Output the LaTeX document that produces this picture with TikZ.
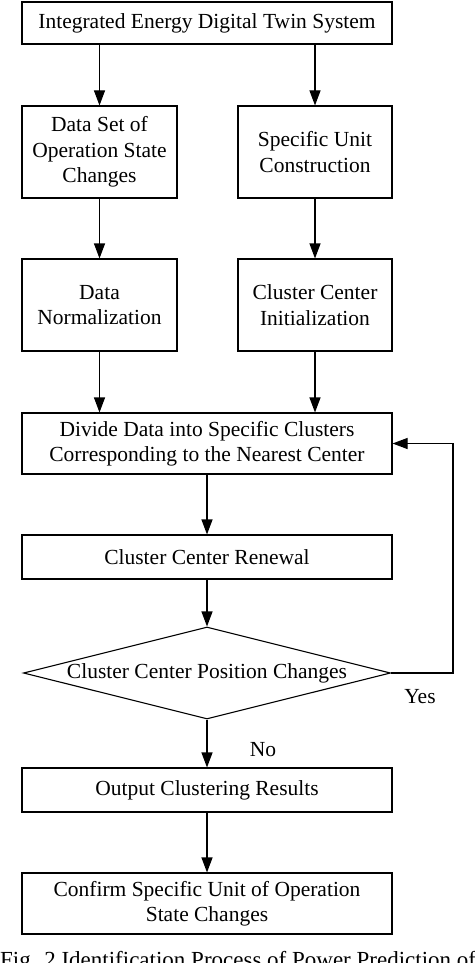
\documentclass[tikz,border=0pt]{standalone}
\usepackage{fontspec}
\setmainfont{Liberation Serif}
\usetikzlibrary{shapes.geometric,arrows.meta}
\begin{document}
\begin{tikzpicture}[x=1pt,y=-1pt]
	% Styles
	\tikzset{box/.style={draw=black, line width=1.1pt, inner sep=0pt, align=center, font=\fontsize{21.5}{25.5}\selectfont},
		arr/.style={line width=1.1pt, -{Triangle[length=15pt,width=11pt]}}}
	\useasboundingbox (0,0) rectangle (474,963);
	
	% Boxes
	\node[box, minimum width=370pt, minimum height=42pt] (sys) at (207,23) {Integrated Energy Digital Twin System};
	
	\node[box, minimum width=155pt, minimum height=92pt] (dset) at (99.5,152) {Data Set of\\Operation State\\Changes};
	\node[box, minimum width=154pt, minimum height=92pt] (unit) at (315,152) {Specific Unit\\Construction};
	
	\node[box, minimum width=155pt, minimum height=92pt] (norm) at (99.5,305) {Data\\Normalization};
	\node[box, minimum width=154pt, minimum height=92pt] (init) at (315,305) {Cluster Center\\Initialization};
	
	\node[box, minimum width=370pt, minimum height=61pt] (divide) at (207,443.5) {Divide Data into Specific Clusters\\Corresponding to the Nearest Center};
	\node[box, minimum width=370pt, minimum height=44pt] (renew) at (207,557) {Cluster Center Renewal};
	\node[box, shape=diamond, aspect=4, minimum width=367pt, minimum height=92pt] (dec) at (207,673) {Cluster Center Position Changes};
	\node[box, minimum width=370pt, minimum height=44pt] (out) at (207,790) {Output Clustering Results};
	\node[box, minimum width=370pt, minimum height=61pt] (conf) at (207,903.5) {Confirm Specific Unit of Operation\\State Changes};
	
	% Arrows
	\draw[arr] (sys.south -| dset) -- (dset.north);
	\draw[arr] (sys.south -| unit) -- (unit.north);
	\draw[arr] (dset.south) -- (norm.north);
	\draw[arr] (unit.south) -- (init.north);
	\draw[arr] (norm.south) -- (norm.south |- divide.north);
	\draw[arr] (init.south) -- (init.south |- divide.north);
	\draw[arr] (divide.south) -- (renew.north);
	\draw[arr] (renew.south) -- (dec.north);
	\draw[arr] (dec.south) -- (out.north);
	\draw[arr] (out.south) -- (conf.north);
	
	% Loop back
	\coordinate (fb) at (453,443.5);
	\draw[arr] (dec.east) -| (fb) -- (divide.east);
	
	\node[font=\fontsize{21.5}{25.5}\selectfont] (yes) at (420,697) {Yes};
	\node[font=\fontsize{21.5}{25.5}\selectfont] (no) at (263,750) {No};
	
	% Caption (cut off)
	\node[anchor=base west, inner sep=0pt, font=\fontsize{23}{27}\selectfont] (cap) at (0,967) {Fig. 2 Identification Process of Power Prediction of};
\end{tikzpicture}
\end{document}
